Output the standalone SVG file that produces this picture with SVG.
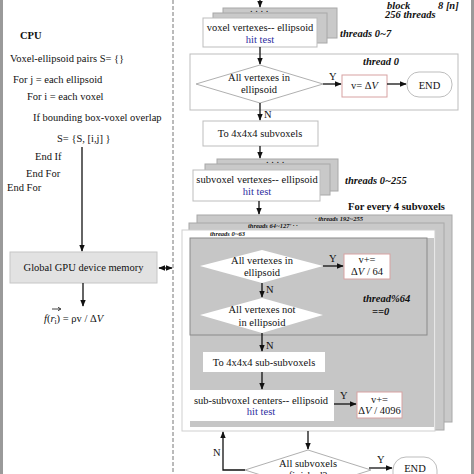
<svg xmlns="http://www.w3.org/2000/svg" width="474" height="474" viewBox="0 0 474 474">
<defs>
<marker id="ah" viewBox="0 0 10 10" refX="9" refY="5" markerUnits="userSpaceOnUse" markerWidth="7" markerHeight="7" orient="auto-start-reverse"><path d="M0,1 L10,5 L0,9 z" fill="#111"/></marker>
<style>
text{font-family:"Liberation Serif","Times New Roman",serif;font-size:10.5px;fill:#111}
.c{text-anchor:middle}
.b{font-weight:bold}
.bi{font-weight:bold;font-style:italic}
.blue{fill:#2c2ca0}
.sm{font-size:6.5px}
.box{fill:#fff;stroke:#bdbdbd;stroke-width:1}
.gray{fill:#c9c9c9;stroke:#a8a8a8;stroke-width:1}
.pink{fill:#fff;stroke:#d7a2a2;stroke-width:1}
.dia{fill:#fff;stroke:#b0b0b0;stroke-width:1}
.ln{stroke:#111;stroke-width:1.3;fill:none;marker-end:url(#ah)}
</style>
</defs>
<rect width="474" height="474" fill="#fff"/>
<rect x="0" y="0" width="3" height="474" fill="#9a9a9a"/>
<rect x="471" y="0" width="3" height="474" fill="#9a9a9a"/>
<line x1="173" y1="0" x2="173" y2="474" stroke="#777" stroke-width="1" stroke-dasharray="4 2"/>

<g id="cpu">
<text x="20" y="39" class="b" font-size="13">CPU</text>
<text x="10" y="62">Voxel-ellipsoid pairs S= {}</text>
<text x="13" y="83">For j = each ellipsoid</text>
<text x="27" y="100">For i = each voxel</text>
<text x="33" y="121">If bounding box-voxel overlap</text>
<text x="57" y="142">S= {S, [i,j] }</text>
<text x="35" y="160">End If</text>
<text x="26" y="177">End For</text>
<text x="7" y="191">End For</text>
</g>

<g id="gpu-memory">
<rect x="10" y="252" width="147" height="31" fill="#e2e2e2" stroke="#c6c6c6"/>
<text x="83.5" y="271" class="c">Global GPU device memory</text>
</g>

<g id="formula">
<text x="44" y="322" font-size="13.5"><tspan font-style="italic">f</tspan>(<tspan font-style="italic">r</tspan><tspan font-size="7.5" dy="2">i</tspan><tspan dy="-2">) = ρv / Δ</tspan><tspan font-style="italic">V</tspan></text>
<line x1="52" y1="309" x2="60" y2="309" stroke="#111" stroke-width="0.8"/>
<path d="M58,307.3 L61,309 L58,310.7" fill="none" stroke="#111" stroke-width="0.8"/>
</g>

<g id="block-labels">
<text x="387" y="8.5" class="bi">block</text>
<text x="438" y="8.5" class="bi">8 [n]</text>
<text x="385" y="18" class="bi">256 threads</text>
<text x="340" y="37" class="bi">threads 0~7</text>
</g>

<g id="voxel-hit-test">
<rect x="223" y="8" width="114" height="30" class="gray"/>
<rect x="213" y="13" width="114" height="30" class="gray"/>
<text x="250" y="12" font-size="8">. . . .</text>
<rect x="203" y="18" width="114" height="29" class="box"/>
<text x="260" y="31" class="c">voxel vertexes-- ellipsoid</text>
<text x="260" y="43" class="c blue">hit test</text>
</g>

<g id="thread0-frame">
<rect x="190" y="54" width="268" height="56" class="box"/>
<text x="363" y="65" class="bi">thread 0</text>
</g>

<g id="diamond-all-in">
<polygon points="260,65 323,84 260,103 196,84" class="dia"/>
<text x="259" y="81" class="c">All vertexes in</text>
<text x="259" y="93" class="c">ellipsoid</text>
</g>

<g id="v-eq">
<rect x="342" y="75" width="45" height="22" class="pink"/>
<text x="364.5" y="89" class="c" font-size="9.5">v= Δ<tspan font-style="italic">V</tspan></text>
</g>

<g id="end1">
<rect x="407" y="72" width="45" height="25" rx="12" class="box"/>
<text x="429.5" y="89" class="c" font-size="11">END</text>
</g>

<g id="to-subvoxels">
<rect x="203" y="121" width="115" height="25" class="box"/>
<text x="260" y="137" class="c">To 4x4x4 subvoxels</text>
</g>

<g id="subvoxel-hit-test">
<rect x="217" y="159" width="121" height="32" class="gray"/>
<rect x="205" y="164" width="125" height="31" class="gray"/>
<text x="266" y="163" font-size="8">. . . .</text>
<rect x="193" y="170" width="127" height="31" class="box"/>
<text x="257" y="183" class="c">subvoxel vertexes-- ellipsoid</text>
<text x="257" y="195" class="c blue">hit test</text>
<text x="345" y="184" class="bi">threads 0~255</text>
</g>

<g id="for-every-4">
<text x="348" y="210" class="b">For every 4 subvoxels</text>
<rect x="197" y="215" width="255" height="207" class="gray"/>
<rect x="189" y="223" width="255" height="207" class="gray"/>
<rect x="182" y="230" width="253" height="201" fill="#fff" stroke="#cfcfcf"/>
<rect x="190" y="238" width="244" height="189" fill="#c6c6c6"/>
<rect x="190" y="238" width="237" height="97" fill="none" stroke="#8a8a8a"/>
<text x="315" y="221" class="bi sm">· threads 192~255</text>
<text x="248" y="228" class="bi sm">threads 64~127' · ·</text>
<text x="210" y="236" class="bi sm">threads 0~63</text>
<text x="363" y="302" class="bi">thread%64</text>
<text x="372" y="315" class="bi">==0</text>
</g>

<g id="diamond-sub-in">
<polygon points="262,250 323,266 262,283 200,266" fill="#fff"/>
<text x="262" y="264" class="c">All vertexes in</text>
<text x="262" y="276" class="c">ellipsoid</text>
</g>

<g id="v-plus-64">
<rect x="344" y="254" width="46" height="25" class="pink"/>
<text x="367" y="263" class="c" font-size="9">v+=</text>
<text x="367" y="275" class="c" font-size="9">Δ<tspan font-style="italic">V</tspan> / 64</text>
</g>

<g id="diamond-sub-not-in">
<polygon points="262,298 323,315 262,333 200,315" fill="#fff"/>
<text x="262" y="313" class="c">All vertexes not</text>
<text x="262" y="326" class="c">in ellipsoid</text>
</g>

<g id="to-sub-subvoxels">
<rect x="203" y="352" width="122" height="20" fill="#fff"/>
<text x="264" y="366" class="c">To 4x4x4 sub-subvoxels</text>
</g>

<g id="sub-sub-hit-test">
<rect x="189" y="390" width="145" height="31" fill="#fff"/>
<text x="261" y="404" class="c">sub-subvoxel centers-- ellipsoid</text>
<text x="261" y="415" class="c blue">hit test</text>
</g>

<g id="v-plus-4096">
<rect x="357" y="392" width="45" height="26" class="pink"/>
<text x="379.5" y="403" class="c" font-size="9">v+=</text>
<text x="379.5" y="414" class="c" font-size="9">Δ<tspan font-style="italic">V</tspan> / 4096</text>
</g>

<g id="diamond-all-subvoxels">
<polygon points="308,450 371,470 308,490 245,470" class="dia"/>
<text x="308" y="467" class="c">All subvoxels</text>
<text x="308" y="479" class="c">finished?</text>
</g>

<g id="end2">
<rect x="393" y="457" width="44" height="30" rx="13" class="box"/>
<text x="415" y="472" class="c" font-size="11">END</text>
</g>

<g id="connectors">
<line x1="82" y1="147" x2="82" y2="251" class="ln"/>
<line x1="159" y1="268" x2="172" y2="268" class="ln" style="marker-start:url(#ah)"/>
<line x1="83" y1="283" x2="83" y2="306" class="ln"/>
<line x1="260" y1="0" x2="260" y2="7" class="ln"/>
<line x1="260" y1="47" x2="260" y2="64" class="ln"/>
<line x1="323" y1="84" x2="341" y2="84" class="ln"/>
<text x="329" y="80">Y</text>
<line x1="387" y1="84" x2="406" y2="84" class="ln"/>
<line x1="260" y1="103" x2="260" y2="120" class="ln"/>
<text x="264" y="118">N</text>
<line x1="260" y1="146" x2="260" y2="158" class="ln"/>
<line x1="259" y1="201" x2="259" y2="214" class="ln"/>
<line x1="323" y1="266" x2="343" y2="266" class="ln"/>
<text x="329" y="262">Y</text>
<line x1="262" y1="283" x2="262" y2="297" class="ln"/>
<text x="266" y="293">N</text>
<line x1="262" y1="333" x2="262" y2="351" class="ln"/>
<text x="266" y="349">N</text>
<line x1="262" y1="372" x2="262" y2="389" class="ln"/>
<line x1="334" y1="404" x2="356" y2="404" class="ln"/>
<text x="340" y="399">Y</text>
<line x1="308" y1="431" x2="308" y2="449" class="ln"/>
<polyline points="245,470 223,470 223,432" class="ln"/>
<text x="213" y="456">N</text>
<line x1="369" y1="468" x2="392" y2="468" class="ln"/>
<text x="377" y="463">Y</text>
</g>
</svg>
